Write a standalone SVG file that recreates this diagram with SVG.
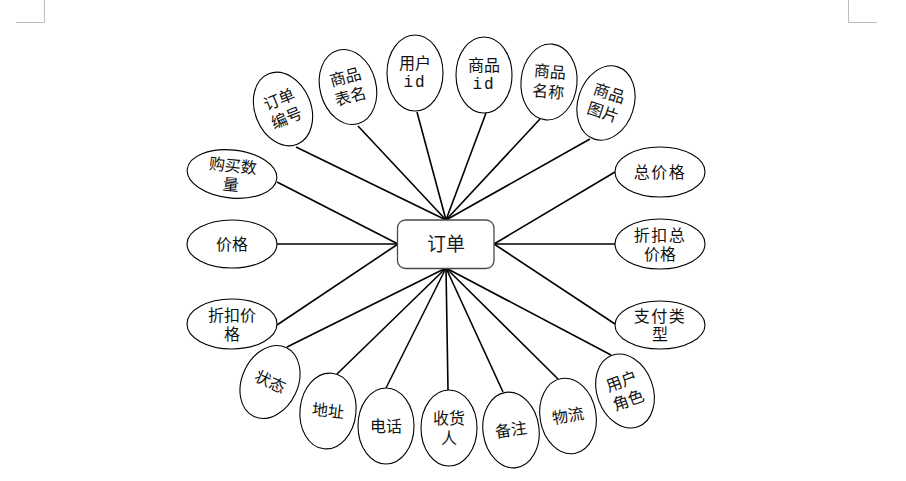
<svg xmlns="http://www.w3.org/2000/svg" width="906" height="481" viewBox="0 0 906 481">
<style>
.bg{fill:#fff}
.mark{stroke:#bdbdbd;stroke-width:1;fill:none}
.e{fill:#fff;stroke:#000;stroke-width:1.1}
.box{fill:#fff;stroke:#4a4a4a;stroke-width:1.3}
.c line{stroke:#000;stroke-width:1.6}
text{font-family:"Liberation Serif","Noto Sans CJK SC",serif;font-size:16px;fill:#111;text-anchor:middle;dominant-baseline:central}
.m{font-family:"Liberation Mono","Noto Sans CJK SC",monospace;letter-spacing:2px}
.big{font-size:19px;fill:#1a1a2a}
</style>
<rect class="bg" x="0" y="0" width="906" height="481"/>
<path class="mark" d="M44.5 0V22.5H16"/>
<path class="mark" d="M848.5 0V22.5H877"/>
<g id="connectors" class="c">
<line x1="446" y1="220" x2="296" y2="147"/>
<line x1="446" y1="220" x2="358" y2="126"/>
<line x1="446" y1="220" x2="417" y2="112"/>
<line x1="446" y1="220" x2="486" y2="113"/>
<line x1="446" y1="220" x2="540" y2="119"/>
<line x1="446" y1="220" x2="590" y2="139"/>
<line x1="494" y1="244" x2="615" y2="172"/>
<line x1="494" y1="244" x2="615" y2="244"/>
<line x1="494" y1="244" x2="615" y2="324"/>
<line x1="446" y1="268" x2="611" y2="355"/>
<line x1="446" y1="268" x2="558" y2="379"/>
<line x1="446" y1="268" x2="503" y2="392"/>
<line x1="446" y1="268" x2="448" y2="390"/>
<line x1="446" y1="268" x2="386" y2="388"/>
<line x1="446" y1="268" x2="337" y2="374"/>
<line x1="446" y1="268" x2="287" y2="347"/>
<line x1="398" y1="244" x2="277" y2="325"/>
<line x1="398" y1="244" x2="277" y2="244"/>
<line x1="398" y1="244" x2="277" y2="182"/>
</g>
<g id="order">
<rect class="box" x="397.5" y="220" width="96.5" height="48.5" rx="8"/>
<text class="big" x="446" y="244">订单</text>
</g>
<g id="n-ddbh" transform="translate(283,109) rotate(-22)">
<ellipse class="e" rx="28" ry="38"/>
<text y="-10">订单</text><text y="10">编号</text>
</g>
<g id="n-spbm" transform="translate(348,87) rotate(-15)">
<ellipse class="e" rx="28" ry="38"/>
<text y="-10">商品</text><text y="10">表名</text>
</g>
<g id="n-yhid" transform="translate(415,73)">
<ellipse class="e" rx="28" ry="38"/>
<text y="-10">用户</text><text class="m" y="10">id</text>
</g>
<g id="n-spid" transform="translate(484,75)">
<ellipse class="e" rx="28" ry="38"/>
<text y="-10">商品</text><text class="m" y="10">id</text>
</g>
<g id="n-spmc" transform="translate(549,82) rotate(5)">
<ellipse class="e" rx="28" ry="38"/>
<text y="-10">商品</text><text y="10">名称</text>
</g>
<g id="n-sptp" transform="translate(606,103) rotate(18)">
<ellipse class="e" rx="28" ry="38"/>
<text y="-10">商品</text><text y="10">图片</text>
</g>
<g id="n-zjg" transform="translate(660,172)">
<ellipse class="e" rx="45" ry="25"/>
<text y="0" letter-spacing="1.5">总价格</text>
</g>
<g id="n-zkzjg" transform="translate(660,244)">
<ellipse class="e" rx="45" ry="25"/>
<text y="-9" letter-spacing="1.5">折扣总</text><text y="10">价格</text>
</g>
<g id="n-zflx" transform="translate(660,325)">
<ellipse class="e" rx="45" ry="24"/>
<text y="-9" letter-spacing="1.5">支付类</text><text y="9">型</text>
</g>
<g id="n-yhjs" transform="translate(625,391) rotate(-20)">
<ellipse class="e" rx="28" ry="38"/>
<text y="-10">用户</text><text y="10">角色</text>
</g>
<g id="n-wl" transform="translate(568,416) rotate(-10)">
<ellipse class="e" rx="28" ry="38"/>
<text y="0">物流</text>
</g>
<g id="n-bz" transform="translate(511,430) rotate(-8)">
<ellipse class="e" rx="28" ry="38"/>
<text y="0">备注</text>
</g>
<g id="n-shr" transform="translate(449,428)">
<ellipse class="e" rx="28" ry="38"/>
<text y="-10">收货</text><text y="10">人</text>
</g>
<g id="n-dh" transform="translate(386,426)">
<ellipse class="e" rx="28" ry="38"/>
<text y="0">电话</text>
</g>
<g id="n-dz" transform="translate(328,411) rotate(6)">
<ellipse class="e" rx="28" ry="38"/>
<text y="0">地址</text>
</g>
<g id="n-zt" transform="translate(270,382) rotate(25)">
<ellipse class="e" rx="28" ry="38"/>
<text y="0">状态</text>
</g>
<g id="n-zkjg" transform="translate(232,324)">
<ellipse class="e" rx="45" ry="25"/>
<text y="-9">折扣价</text><text y="10">格</text>
</g>
<g id="n-jg" transform="translate(232,244)">
<ellipse class="e" rx="45" ry="24"/>
<text y="0">价格</text>
</g>
<g id="n-gmsl" transform="translate(232,174) rotate(6)">
<ellipse class="e" rx="45" ry="24"/>
<text y="-8">购买数</text><text y="11">量</text>
</g>
</svg>
